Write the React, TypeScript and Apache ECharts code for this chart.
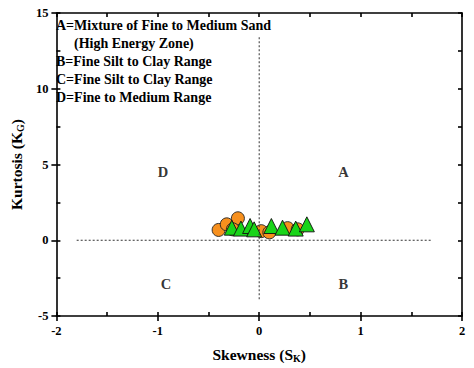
import React, { useEffect, useRef } from "react";
import * as echarts from "echarts";

const circlePoints: [number, number][] = [
  [-0.4, 0.68], [-0.32, 1.05], [-0.21, 1.45], [-0.26, 0.72],
  [0.02, 0.6], [0.1, 0.52], [0.28, 0.8], [0.38, 0.72],
];
const trianglePoints: [number, number][] = [
  [-0.27, 0.83], [-0.18, 0.77], [-0.09, 0.94], [-0.05, 0.72],
  [0.12, 0.94], [0.23, 0.83], [0.36, 0.77], [0.47, 1.05],
];
const zoneLabels: { name: string; value: [number, number] }[] = [
  { name: "D", value: [-0.95, 4.5] },
  { name: "A", value: [0.83, 4.5] },
  { name: "C", value: [-0.92, -2.9] },
  { name: "B", value: [0.83, -2.9] },
];
const legendLines = [
  "A=Mixture of Fine to Medium Sand",
  "(High Energy Zone)",
  "B=Fine Silt to Clay Range",
  "C=Fine Silt to Clay Range",
  "D=Fine to Medium Range",
];
const hLine: [number, number][] = [[-1.8, 0], [1.7, 0]];
const vLine: [number, number][] = [[0, 13.4], [0, -3.9]];

const FONT = "'Liberation Serif', 'Times New Roman', serif";

export default function App() {
  const ref = useRef<HTMLDivElement>(null);
  useEffect(() => {
    if (!ref.current) return;
    const chart = echarts.init(ref.current, null, { renderer: "svg" });
    const axisLabel = { color: "#000", fontFamily: FONT, fontWeight: "bold" as const, fontSize: 12.5 };
    const lineStyle = { color: "#000", width: 1.6 };
    const rich = {
      a: { fontFamily: FONT, fontWeight: "bold", fontSize: 15.5, color: "#000" },
      s: { fontFamily: FONT, fontWeight: "bold", fontSize: 10, color: "#000", verticalAlign: "bottom", padding: [8, 0, 0, 0] },
    };
    chart.setOption({
      animation: false,
      backgroundColor: "#fff",
      grid: { left: 53, right: 12, top: 13, bottom: 51 },
      xAxis: [
        {
          type: "value", min: -2, max: 2, interval: 1, position: "bottom",
          axisLine: { show: true, onZero: false, lineStyle },
          axisTick: { show: true, inside: false, length: 5, lineStyle },
          axisLabel: { ...axisLabel, margin: 8 },
          splitLine: { show: false },
          name: "{a|Skewness (S}{s|K}{a|)}",
          nameLocation: "middle", nameGap: 29,
          nameTextStyle: { rich },
        },
        {
          type: "value", min: -2, max: 2, interval: 0.5, position: "bottom",
          axisLine: { show: false, onZero: false },
          axisTick: { show: true, inside: true, length: 4, lineStyle },
          axisLabel: { show: false }, splitLine: { show: false },
        },
        {
          type: "value", min: -2, max: 2, interval: 0.5, position: "top",
          axisLine: { show: true, onZero: false, lineStyle },
          axisTick: { show: true, inside: true, length: 4, lineStyle },
          axisLabel: { show: false }, splitLine: { show: false },
        },
      ],
      yAxis: [
        {
          type: "value", min: -5, max: 15, interval: 5, position: "left",
          axisLine: { show: true, onZero: false, lineStyle },
          axisTick: { show: true, inside: false, length: 5, lineStyle },
          axisLabel: { ...axisLabel, margin: 8 },
          splitLine: { show: false },
          name: "{a|Kurtosis (K}{s|G}{a|)}",
          nameLocation: "middle", nameGap: 22, nameRotate: 90,
          nameTextStyle: { rich },
        },
        {
          type: "value", min: -5, max: 15, interval: 2.5, position: "left",
          axisLine: { show: false, onZero: false },
          axisTick: { show: true, inside: true, length: 4, lineStyle },
          axisLabel: { show: false }, splitLine: { show: false },
        },
        {
          type: "value", min: -5, max: 15, interval: 2.5, position: "right",
          axisLine: { show: true, onZero: false, lineStyle },
          axisTick: { show: true, inside: true, length: 4, lineStyle },
          axisLabel: { show: false }, splitLine: { show: false },
        },
      ],
      series: [
        {
          type: "line", data: hLine, symbol: "none",
          lineStyle: { color: "#333", width: 1, type: [2, 2] }, silent: true,
        },
        {
          type: "line", data: vLine, symbol: "none",
          lineStyle: { color: "#333", width: 1, type: [2, 2] }, silent: true,
        },
        {
          type: "scatter", data: zoneLabels, symbolSize: 0,
          label: {
            show: true, position: "inside", formatter: "{b}",
            fontFamily: FONT, fontWeight: "bold", fontSize: 14.5, color: "#000",
          },
        },
        {
          type: "scatter", data: circlePoints, symbol: "circle", symbolSize: 13,
          itemStyle: { color: "#f7901e", borderColor: "#222", borderWidth: 0.9, opacity: 1 },
        },
        {
          type: "scatter", data: trianglePoints, symbol: "triangle", symbolSize: 15,
          itemStyle: { color: "#19d419", borderColor: "#111", borderWidth: 0.9, opacity: 1 },
        },
      ],
      graphic: legendLines.map((t, i) => ({
        type: "text",
        left: i === 1 ? 74 : 56,
        top: 18 + i * 18,
        style: {
          text: t, fontFamily: FONT, fontWeight: "bold", fontSize: 14, fill: "#000",
        },
      })),
    });
    return () => chart.dispose();
  }, []);
  return <div ref={ref} style={{ width: 474, height: 368, position: "absolute", left: 0, top: 0 }} />;
}
